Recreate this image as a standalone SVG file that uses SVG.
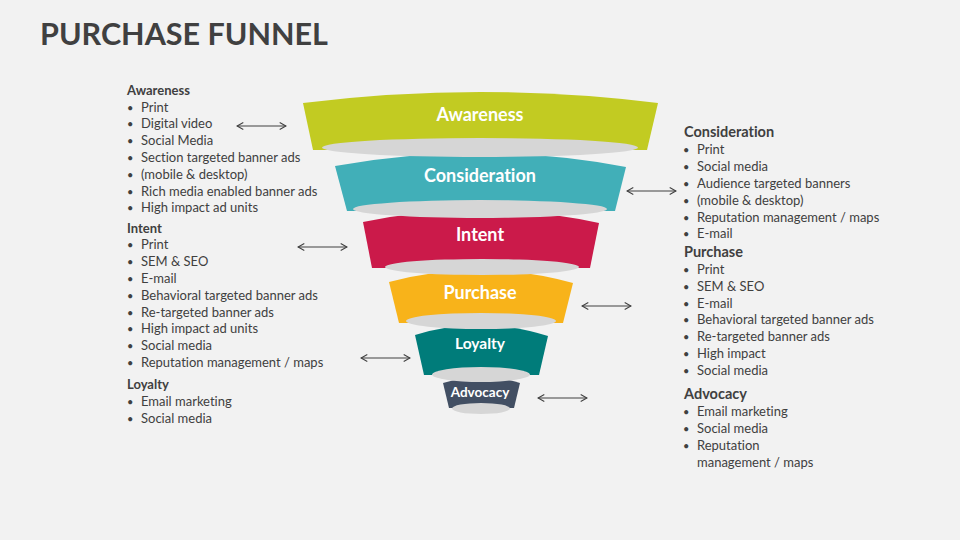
<svg xmlns="http://www.w3.org/2000/svg" width="960" height="540" viewBox="0 0 960 540">
<defs>
<marker id="ah" viewBox="0 0 8 8" refX="7.3" refY="4" markerWidth="8" markerHeight="8" markerUnits="userSpaceOnUse" orient="auto-start-reverse">
<path d="M1,0.6 L7.2,4 L1,7.4" fill="none" stroke="#404040" stroke-width="1.1"/>
</marker>
<style>
text{font-variant-ligatures:none;font-feature-settings:"liga" 0,"dlig" 0}
.bg{fill:#F2F2F2}
.title{font-family:Lato,"Open Sans",sans-serif;font-weight:700;font-size:31px;fill:#404040}
.lbl{font-family:Lato,"Open Sans",sans-serif;font-weight:700;fill:#FFFFFF;text-anchor:middle}
.hole{fill:#D6D6D6}
.h{font-family:Lato,"Open Sans",sans-serif;font-weight:700;font-size:13px;fill:#404040}
.hr{font-family:Lato,"Open Sans",sans-serif;font-weight:700;font-size:14.5px;fill:#404040}
.t{font-family:Lato,"Open Sans",sans-serif;font-size:13px;fill:#404040}
.b{font-family:Lato,"Open Sans",sans-serif;font-size:11px;fill:#404040}
.arr{stroke:#404040;stroke-width:1.1;fill:none;marker-start:url(#ah);marker-end:url(#ah)}
</style>
</defs>
<rect class="bg" x="0" y="0" width="960" height="540"/>
<text class="title" x="40" y="45" textLength="288" lengthAdjust="spacingAndGlyphs">PURCHASE FUNNEL</text>

<g id="advocacy">
<path d="M443,383 Q481,371 520,383 L514,408 L449,408 Z" fill="#424F63"/>
<ellipse class="hole" cx="481" cy="408.5" rx="29" ry="5.5"/>
<text class="lbl" x="480" y="397" font-size="13.5">Advocacy</text>
</g>
<g id="loyalty">
<path d="M415,335 Q481,314.5 548,336 L539,375 L424,375 Z" fill="#007C7A"/>
<ellipse class="hole" cx="481" cy="374.5" rx="49" ry="7.5"/>
<text class="lbl" x="480" y="349" font-size="15.5">Loyalty</text>
</g>
<g id="purchase">
<path d="M389,282 Q481,257.5 573,283 L563,323 L399,323 Z" fill="#F8B31A"/>
<ellipse class="hole" cx="481" cy="321" rx="75" ry="8"/>
<text class="lbl" x="480" y="299" font-size="18">Purchase</text>
</g>
<g id="intent">
<path d="M363,222 Q481,197.5 599,223 L590,268 L372,268 Z" fill="#CB1A4A"/>
<ellipse class="hole" cx="482" cy="267" rx="97" ry="8"/>
<text class="lbl" x="480" y="241" font-size="18">Intent</text>
</g>
<g id="consideration">
<path d="M335,166 Q480,139.5 626,167 L615,211 L347,211 Z" fill="#41AFB8"/>
<ellipse class="hole" cx="480" cy="209" rx="127" ry="9"/>
<text class="lbl" x="480" y="182" font-size="18">Consideration</text>
</g>
<g id="awareness">
<path d="M303,103 Q480,81 658,103 L647,150 L313,150 Z" fill="#C2CB22"/>
<ellipse class="hole" cx="480" cy="147.5" rx="158" ry="9.5"/>
<text class="lbl" x="480" y="121" font-size="18">Awareness</text>
</g>

<g id="connectors">
<line class="arr" x1="237" y1="126" x2="286" y2="126"/>
<line class="arr" x1="627" y1="191" x2="676" y2="191"/>
<line class="arr" x1="298" y1="247" x2="347" y2="247"/>
<line class="arr" x1="582" y1="306" x2="631" y2="306"/>
<line class="arr" x1="361" y1="358" x2="410" y2="358"/>
<line class="arr" x1="538" y1="398" x2="587" y2="398"/>
</g>

<g id="left-text">
<text class="h" x="127" y="95">Awareness</text>
<text class="b" x="127" y="111.5">•</text><text class="t" x="141" y="111.5">Print</text>
<text class="b" x="127" y="128.3">•</text><text class="t" x="141" y="128.3">Digital video</text>
<text class="b" x="127" y="145.1">•</text><text class="t" x="141" y="145.1">Social Media</text>
<text class="b" x="127" y="161.9">•</text><text class="t" x="141" y="161.9">Section targeted banner ads</text>
<text class="b" x="127" y="178.7">•</text><text class="t" x="141" y="178.7">(mobile &amp; desktop)</text>
<text class="b" x="127" y="195.5">•</text><text class="t" x="141" y="195.5">Rich media enabled banner ads</text>
<text class="b" x="127" y="212.3">•</text><text class="t" x="141" y="212.3">High impact ad units</text>
<text class="h" x="127" y="232.7">Intent</text>
<text class="b" x="127" y="249.3">•</text><text class="t" x="141" y="249.3">Print</text>
<text class="b" x="127" y="266.1">•</text><text class="t" x="141" y="266.1">SEM &amp; SEO</text>
<text class="b" x="127" y="282.9">•</text><text class="t" x="141" y="282.9">E-mail</text>
<text class="b" x="127" y="299.7">•</text><text class="t" x="141" y="299.7">Behavioral targeted banner ads</text>
<text class="b" x="127" y="316.5">•</text><text class="t" x="141" y="316.5">Re-targeted banner ads</text>
<text class="b" x="127" y="333.3">•</text><text class="t" x="141" y="333.3">High impact ad units</text>
<text class="b" x="127" y="350.1">•</text><text class="t" x="141" y="350.1">Social media</text>
<text class="b" x="127" y="366.9">•</text><text class="t" x="141" y="366.9">Reputation management / maps</text>
<text class="h" x="127" y="389.3">Loyalty</text>
<text class="b" x="127" y="406.3">•</text><text class="t" x="141" y="406.3">Email marketing</text>
<text class="b" x="127" y="423.1">•</text><text class="t" x="141" y="423.1">Social media</text>
</g>

<g id="right-text">
<text class="hr" x="684" y="137.3">Consideration</text>
<text class="b" x="683" y="154.3">•</text><text class="t" x="697" y="154.3">Print</text>
<text class="b" x="683" y="171.1">•</text><text class="t" x="697" y="171.1">Social media</text>
<text class="b" x="683" y="187.9">•</text><text class="t" x="697" y="187.9">Audience targeted banners</text>
<text class="b" x="683" y="204.7">•</text><text class="t" x="697" y="204.7">(mobile &amp; desktop)</text>
<text class="b" x="683" y="221.5">•</text><text class="t" x="697" y="221.5">Reputation management / maps</text>
<text class="b" x="683" y="238.3">•</text><text class="t" x="697" y="238.3">E-mail</text>
<text class="hr" x="684" y="257.3">Purchase</text>
<text class="b" x="683" y="274">•</text><text class="t" x="697" y="274">Print</text>
<text class="b" x="683" y="290.8">•</text><text class="t" x="697" y="290.8">SEM &amp; SEO</text>
<text class="b" x="683" y="307.6">•</text><text class="t" x="697" y="307.6">E-mail</text>
<text class="b" x="683" y="324.4">•</text><text class="t" x="697" y="324.4">Behavioral targeted banner ads</text>
<text class="b" x="683" y="341.2">•</text><text class="t" x="697" y="341.2">Re-targeted banner ads</text>
<text class="b" x="683" y="358">•</text><text class="t" x="697" y="358">High impact</text>
<text class="b" x="683" y="374.8">•</text><text class="t" x="697" y="374.8">Social media</text>
<text class="hr" x="684" y="399.3">Advocacy</text>
<text class="b" x="683" y="416.3">•</text><text class="t" x="697" y="416.3">Email marketing</text>
<text class="b" x="683" y="433.1">•</text><text class="t" x="697" y="433.1">Social media</text>
<text class="b" x="683" y="449.9">•</text><text class="t" x="697" y="449.9">Reputation</text>
<text class="t" x="697" y="466.7">management / maps</text>
</g>
</svg>
